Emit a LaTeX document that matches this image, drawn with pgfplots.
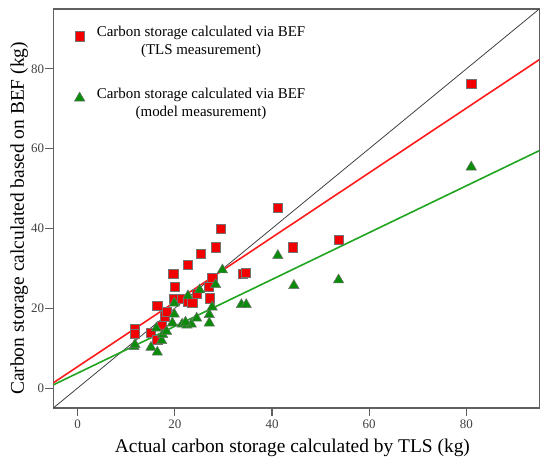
\documentclass[border=0pt]{standalone}
\usepackage{fontspec}
\setmainfont{Liberation Serif}
\usepackage{pgfplots}
\pgfplotsset{compat=1.18}
\definecolor{sqred}{HTML}{F20000}
\definecolor{trgreen}{HTML}{0A8C0A}
\definecolor{lnred}{HTML}{FF1A1A}
\definecolor{lngreen}{HTML}{1FA51F}
\definecolor{axgray}{HTML}{606060}
\begin{document}
\begin{tikzpicture}
\begin{axis}[name=ax, scale only axis, width=486bp, height=399bp,
  xmin=-5, xmax=95, ymin=-5, ymax=95,
  xtick={0,20,40,60,80}, ytick={0,20,40,60,80},
  tick align=outside, major tick length=8bp,
  xtick pos=bottom, ytick pos=left,
  axis line style={axgray, line width=1.1pt},
  tick style={axgray, line width=1.1pt},
  /pgf/number format/assume math mode=true,
  ticklabel style={font=\fontsize{13}{15}\selectfont, text=black!75},
  yticklabel style={inner xsep=1bp},
  xlabel={Actual carbon storage calculated by TLS (kg)},
  ylabel={Carbon storage calculated based on BEF (kg)},
  label style={font=\fontsize{19.5}{22}\selectfont},
  xlabel style={at={(axis description cs:0.492,-0.1)}, anchor=center},
  ylabel style={at={(axis description cs:-0.07,0.475)}, anchor=center},
  legend style={at={(axis description cs:0.037,0.967)}, anchor=north west,
    draw=none, fill=none, font=\fontsize{15}{18}\selectfont,
    nodes={align=center, inner xsep=12bp}, row sep=28bp},
  legend cell align=left,
  legend image post style={yshift=5bp},
]
\addplot[only marks, mark=square*, mark size=4.6bp,
  mark options={fill=sqred, draw=black!55, line width=0.5pt}] coordinates {
(11.8,14.8) (11.8,13.6) (15.1,13.9) (16.4,12.1) (16.4,20.6) (17.3,15.6)
(17.9,18.0) (18.3,19.2) (19.8,22.3) (20.0,25.3) (19.7,28.6) (21.4,22.3)
(22.7,21.7) (23.6,21.3) (22.7,30.9) (24.5,23.6) (25.3,33.7) (27.0,25.3)
(27.2,22.5) (27.7,27.7) (28.4,35.3) (29.5,39.9) (33.9,28.6) (34.6,28.8)
(41.2,45.2) (44.3,35.3) (53.7,37.2) (81.0,76.2)
};
\addlegendentry{Carbon storage calculated via BEF\\(TLS measurement)}
\addplot[only marks, mark=triangle*, mark size=6bp,
  mark options={fill=trgreen, draw=black!55, line width=0.5pt}] coordinates {
(11.6,10.4) (11.8,10.9) (15.1,10.2) (16.4,9.0) (17.3,11.9) (17.5,13.4)
(16.2,15.0) (18.3,14.2) (19.5,16.3) (19.9,18.5) (19.9,21.3) (21.5,16.0)
(22.5,15.8) (23.4,16.0) (22.2,16.5) (24.5,17.5) (22.7,23.1) (25.1,24.6)
(27.1,16.3) (27.1,18.4) (27.7,20.3) (28.4,25.9) (29.8,29.6) (33.7,20.9)
(34.7,20.9) (41.2,33.2) (44.5,25.7) (53.7,27.1) (81.0,55.4)
};
\addlegendentry{Carbon storage calculated via BEF\\(model measurement)}
\addplot[forget plot, color=black!75, line width=0.8pt] coordinates {(-5,-5) (95,95)};
\addplot[forget plot, color=lnred, line width=1.6pt] coordinates {(-5,1.3) (95,82.3)};
\addplot[forget plot, color=lngreen, line width=1.6pt] coordinates {(-5,0.8) (95,59.5)};
\end{axis}
\pgfresetboundingbox
\path[use as bounding box] ([xshift=-53.3bp,yshift=-56bp]ax.south west) rectangle ([xshift=10.7bp,yshift=9bp]ax.north east);
\end{tikzpicture}
\end{document}
